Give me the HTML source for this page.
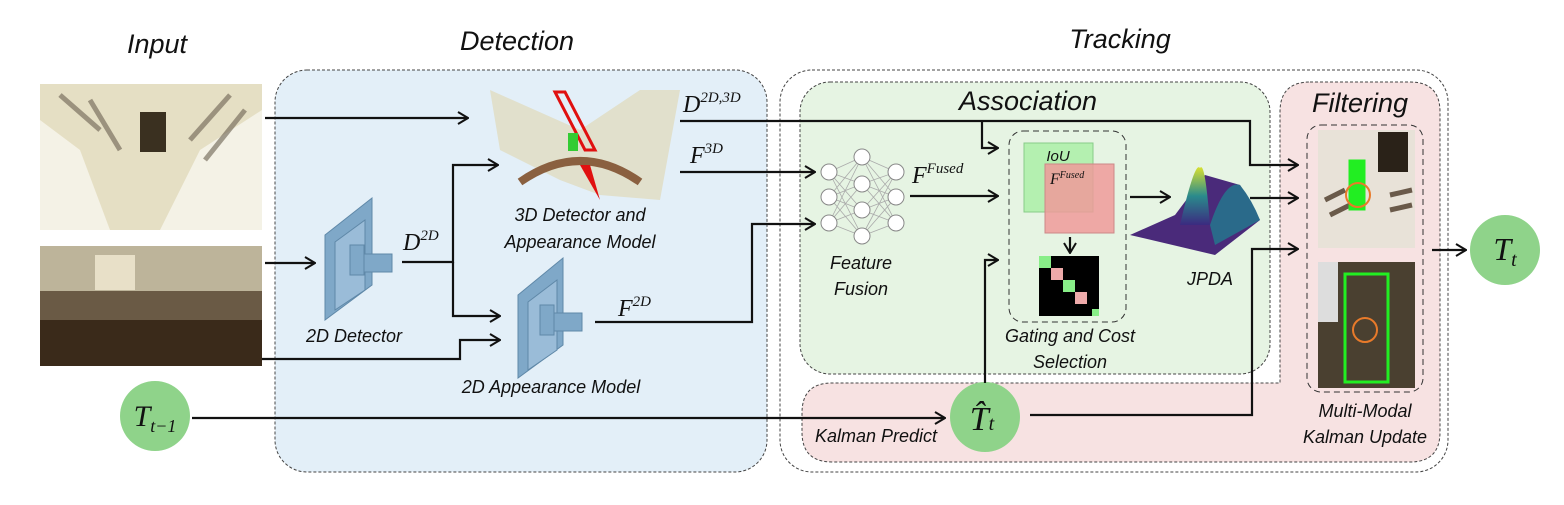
<!DOCTYPE html>
<html><head><meta charset="utf-8"><style>
body{margin:0;background:#fff}
svg{display:block}
text{font-family:"Liberation Sans",sans-serif;font-style:italic;fill:#111}
.m{font-family:"Liberation Serif",serif;font-style:italic}
</style></head><body>
<svg width="1564" height="505" viewBox="0 0 1564 505" xmlns="http://www.w3.org/2000/svg">
<defs>
<marker id="a" markerWidth="12" markerHeight="14" refX="11" refY="7" orient="auto" markerUnits="userSpaceOnUse">
<path d="M1,1 L11,7 L1,13" fill="none" stroke="#111" stroke-width="2"/></marker>
<linearGradient id="pk" x1="0" y1="1" x2="0" y2="0"><stop offset="0" stop-color="#3b2a80"/><stop offset=".5" stop-color="#2a8a8c"/><stop offset="1" stop-color="#d8e030"/></linearGradient>
</defs>
<text x="157" y="53" font-size="27" text-anchor="middle">Input</text>
<text x="517" y="50" font-size="27" text-anchor="middle">Detection</text>
<text x="1120" y="48" font-size="27" text-anchor="middle">Tracking</text>

<rect x="275" y="70" width="492" height="402" rx="32" fill="#e3eff8" stroke="#444" stroke-dasharray="3,2"/>
<rect x="780" y="70" width="668" height="402" rx="32" fill="none" stroke="#444" stroke-dasharray="3,2"/>
<path d="M1310,82 H1410 Q1440,82 1440,112 V432 Q1440,462 1410,462 H832 Q802,462 802,432 V413 Q802,383 832,383 H1280 V112 Q1280,82 1310,82 Z" fill="#f7e2e2" stroke="#444" stroke-dasharray="3,2"/>
<rect x="800" y="82" width="470" height="292" rx="30" fill="#e6f4e3" stroke="#444" stroke-dasharray="3,2"/>
<text x="1028" y="110" font-size="27" text-anchor="middle">Association</text>
<text x="1360" y="112" font-size="27" text-anchor="middle">Filtering</text>
<rect x="1307" y="125" width="116" height="267" rx="14" fill="none" stroke="#333" stroke-dasharray="6,4"/>
<rect x="1009" y="131" width="117" height="191" rx="14" fill="none" stroke="#333" stroke-dasharray="6,4"/>

<!-- input images -->
<rect x="40" y="84" width="222" height="146" fill="#f4f2e6"/>
<path d="M40,84 H262 V110 L200,150 L160,230 H110 L80,150 L40,120Z" fill="#d8d0a8" opacity=".55"/>
<path d="M60,95 L100,130 M90,100 L120,150 M230,95 L190,140 M245,110 L205,160" stroke="#6a6050" stroke-width="5" opacity=".6"/>
<rect x="140" y="112" width="26" height="40" fill="#3a3020"/>
<rect x="40" y="246" width="222" height="120" fill="#6a5a45"/>
<rect x="40" y="246" width="222" height="45" fill="#bdb49a"/>
<rect x="95" y="255" width="40" height="35" fill="#e8e0c8"/>
<rect x="40" y="320" width="222" height="46" fill="#3a2a1a"/>

<!-- 3D point cloud -->
<path d="M490,90 L580,130 L640,90 L680,90 L660,200 L600,195 L560,180 L500,150 Z" fill="#e0dcc0" opacity=".8"/>
<path d="M520,182 Q580,140 640,182" fill="none" stroke="#8a6040" stroke-width="8"/>
<path d="M555,92 L585,150 L595,150 L565,92Z" fill="none" stroke="#e01010" stroke-width="3"/>
<path d="M580,165 L600,200 L590,165Z" fill="#e01010"/>
<rect x="568" y="133" width="10" height="18" fill="#3c3"/>

<g fill="#7fa8c8" stroke="#5f88a8">
<polygon points="325,235 372,198 372,285 325,320"/>
<polygon points="335,242 365,220 365,290 335,310" fill="#9abcd8"/>
<rect x="350" y="245" width="14" height="30"/>
<rect x="364" y="254" width="28" height="18"/>
<polygon points="518,295 563,258 563,345 518,378"/>
<polygon points="528,302 557,280 557,350 528,370" fill="#9abcd8"/>
<rect x="540" y="305" width="14" height="30"/>
<rect x="554" y="313" width="28" height="18"/>
</g>
<text x="354" y="342" font-size="18" text-anchor="middle">2D Detector</text>
<text x="551" y="393" font-size="18" text-anchor="middle">2D Appearance Model</text>
<text x="580" y="221" font-size="18" text-anchor="middle">3D Detector and</text>
<text x="580" y="248" font-size="18" text-anchor="middle">Appearance Model</text>

<text class="m" x="403" y="250" font-size="24">D<tspan font-size="15" dy="-10">2D</tspan></text>
<text class="m" x="683" y="112" font-size="24">D<tspan font-size="15" dy="-10">2D,3D</tspan></text>
<text class="m" x="690" y="163" font-size="24">F<tspan font-size="15" dy="-10">3D</tspan></text>
<text class="m" x="618" y="316" font-size="24">F<tspan font-size="15" dy="-10">2D</tspan></text>
<text class="m" x="912" y="183" font-size="24">F<tspan font-size="15" dy="-10">Fused</tspan></text>

<g stroke="#aaa" stroke-width=".8">
<path d="M829,172L862,157M829,172L862,184M829,172L862,210M829,172L862,236M829,197L862,157M829,197L862,184M829,197L862,210M829,197L862,236M829,223L862,157M829,223L862,184M829,223L862,210M829,223L862,236M896,172L862,157M896,172L862,184M896,172L862,210M896,172L862,236M896,197L862,157M896,197L862,184M896,197L862,210M896,197L862,236M896,223L862,157M896,223L862,184M896,223L862,210M896,223L862,236"/>
</g>
<g fill="#fff" stroke="#888">
<circle cx="829" cy="172" r="8"/><circle cx="829" cy="197" r="8"/><circle cx="829" cy="223" r="8"/>
<circle cx="862" cy="157" r="8"/><circle cx="862" cy="184" r="8"/><circle cx="862" cy="210" r="8"/><circle cx="862" cy="236" r="8"/>
<circle cx="896" cy="172" r="8"/><circle cx="896" cy="197" r="8"/><circle cx="896" cy="223" r="8"/>
</g>
<text x="861" y="269" font-size="18" text-anchor="middle">Feature</text>
<text x="861" y="295" font-size="18" text-anchor="middle">Fusion</text>

<rect x="1024" y="143" width="69" height="69" fill="#b4f0b0" stroke="#8c8"/>
<rect x="1045" y="164" width="69" height="69" fill="#ee9a9a" fill-opacity=".85" stroke="#c88"/>
<text x="1058" y="161" font-size="15" text-anchor="middle">IoU</text>
<text class="m" x="1050" y="184" font-size="16">F<tspan font-size="10" dy="-6">Fused</tspan></text>
<rect x="1039" y="256" width="60" height="60" fill="#000"/>
<rect x="1039" y="256" width="12" height="12" fill="#8e8"/>
<rect x="1051" y="268" width="12" height="12" fill="#eaa"/>
<rect x="1063" y="280" width="12" height="12" fill="#8e8"/>
<rect x="1075" y="292" width="12" height="12" fill="#eaa"/>
<rect x="1092" y="309" width="7" height="7" fill="#8e8"/>
<text x="1070" y="342" font-size="18" text-anchor="middle">Gating and Cost</text>
<text x="1070" y="368" font-size="18" text-anchor="middle">Selection</text>

<polygon points="1130,235 1175,215 1205,175 1240,185 1260,220 1215,255" fill="#4a2a7a"/>
<path d="M1180,225 Q1195,160 1200,168 Q1205,160 1210,225Z" fill="url(#pk)"/>
<path d="M1210,225 Q1225,180 1240,185 Q1252,200 1260,220 L1215,245Z" fill="#2a6a8a"/>
<text x="1210" y="285" font-size="18" text-anchor="middle">JPDA</text>

<rect x="1318" y="130" width="97" height="118" fill="#e8e2d8"/>
<path d="M1325,200 L1345,190 M1330,215 L1350,205 M1390,195 L1412,190 M1390,210 L1412,205" stroke="#6a5a4a" stroke-width="5"/>
<rect x="1378" y="132" width="30" height="40" fill="#2a2218"/>
<rect x="1349" y="160" width="16" height="50" fill="#2e2" stroke="#2e2"/>
<circle cx="1358" cy="195" r="12" fill="none" stroke="#e87a2a" stroke-width="2"/>
<rect x="1318" y="262" width="97" height="126" fill="#4a4030"/>
<rect x="1318" y="262" width="20" height="60" fill="#ddd"/>
<rect x="1345" y="274" width="43" height="108" fill="none" stroke="#2e2" stroke-width="3"/>
<circle cx="1365" cy="330" r="12" fill="none" stroke="#e87a2a" stroke-width="2"/>
<text x="1365" y="417" font-size="18" text-anchor="middle">Multi-Modal</text>
<text x="1365" y="443" font-size="18" text-anchor="middle">Kalman Update</text>
<text x="876" y="442" font-size="18" text-anchor="middle">Kalman Predict</text>

<g fill="#8fd38a">
<circle cx="155" cy="416" r="35"/><circle cx="985" cy="417" r="35"/><circle cx="1505" cy="250" r="35"/>
</g>
<text class="m" x="155" y="426" font-size="30" text-anchor="middle">T<tspan font-size="18" dy="6">t−1</tspan></text>
<text class="m" x="982" y="430" font-size="34" text-anchor="middle">T̂<tspan font-size="20" dy="0">t</tspan></text>
<text class="m" x="1505" y="260" font-size="32" text-anchor="middle">T<tspan font-size="20" dy="6">t</tspan></text>

<g fill="none" stroke="#111" stroke-width="2.2" marker-end="url(#a)">
<path d="M265,118 H468"/>
<path d="M680,121 H1250 V165 H1298"/>
<path d="M982,121 V148 H998"/>
<path d="M680,172 H815"/>
<path d="M595,322 H752 V224 H815"/>
<path d="M265,263 H315"/>
<path d="M402,262 H453 V165 H498"/>
<path d="M453,262 V316 H500"/>
<path d="M262,359 H460 V340 H500"/>
<path d="M192,418 H945"/>
<path d="M910,196 H998"/>
<path d="M985,383 V260 H998"/>
<path d="M1130,197 H1170"/>
<path d="M1250,198 H1298"/>
<path d="M1030,415 H1252 V249 H1298"/>
<path d="M1432,250 H1466"/>
<path d="M1070,237 V253"/>
</g>
</svg>
</body></html>
